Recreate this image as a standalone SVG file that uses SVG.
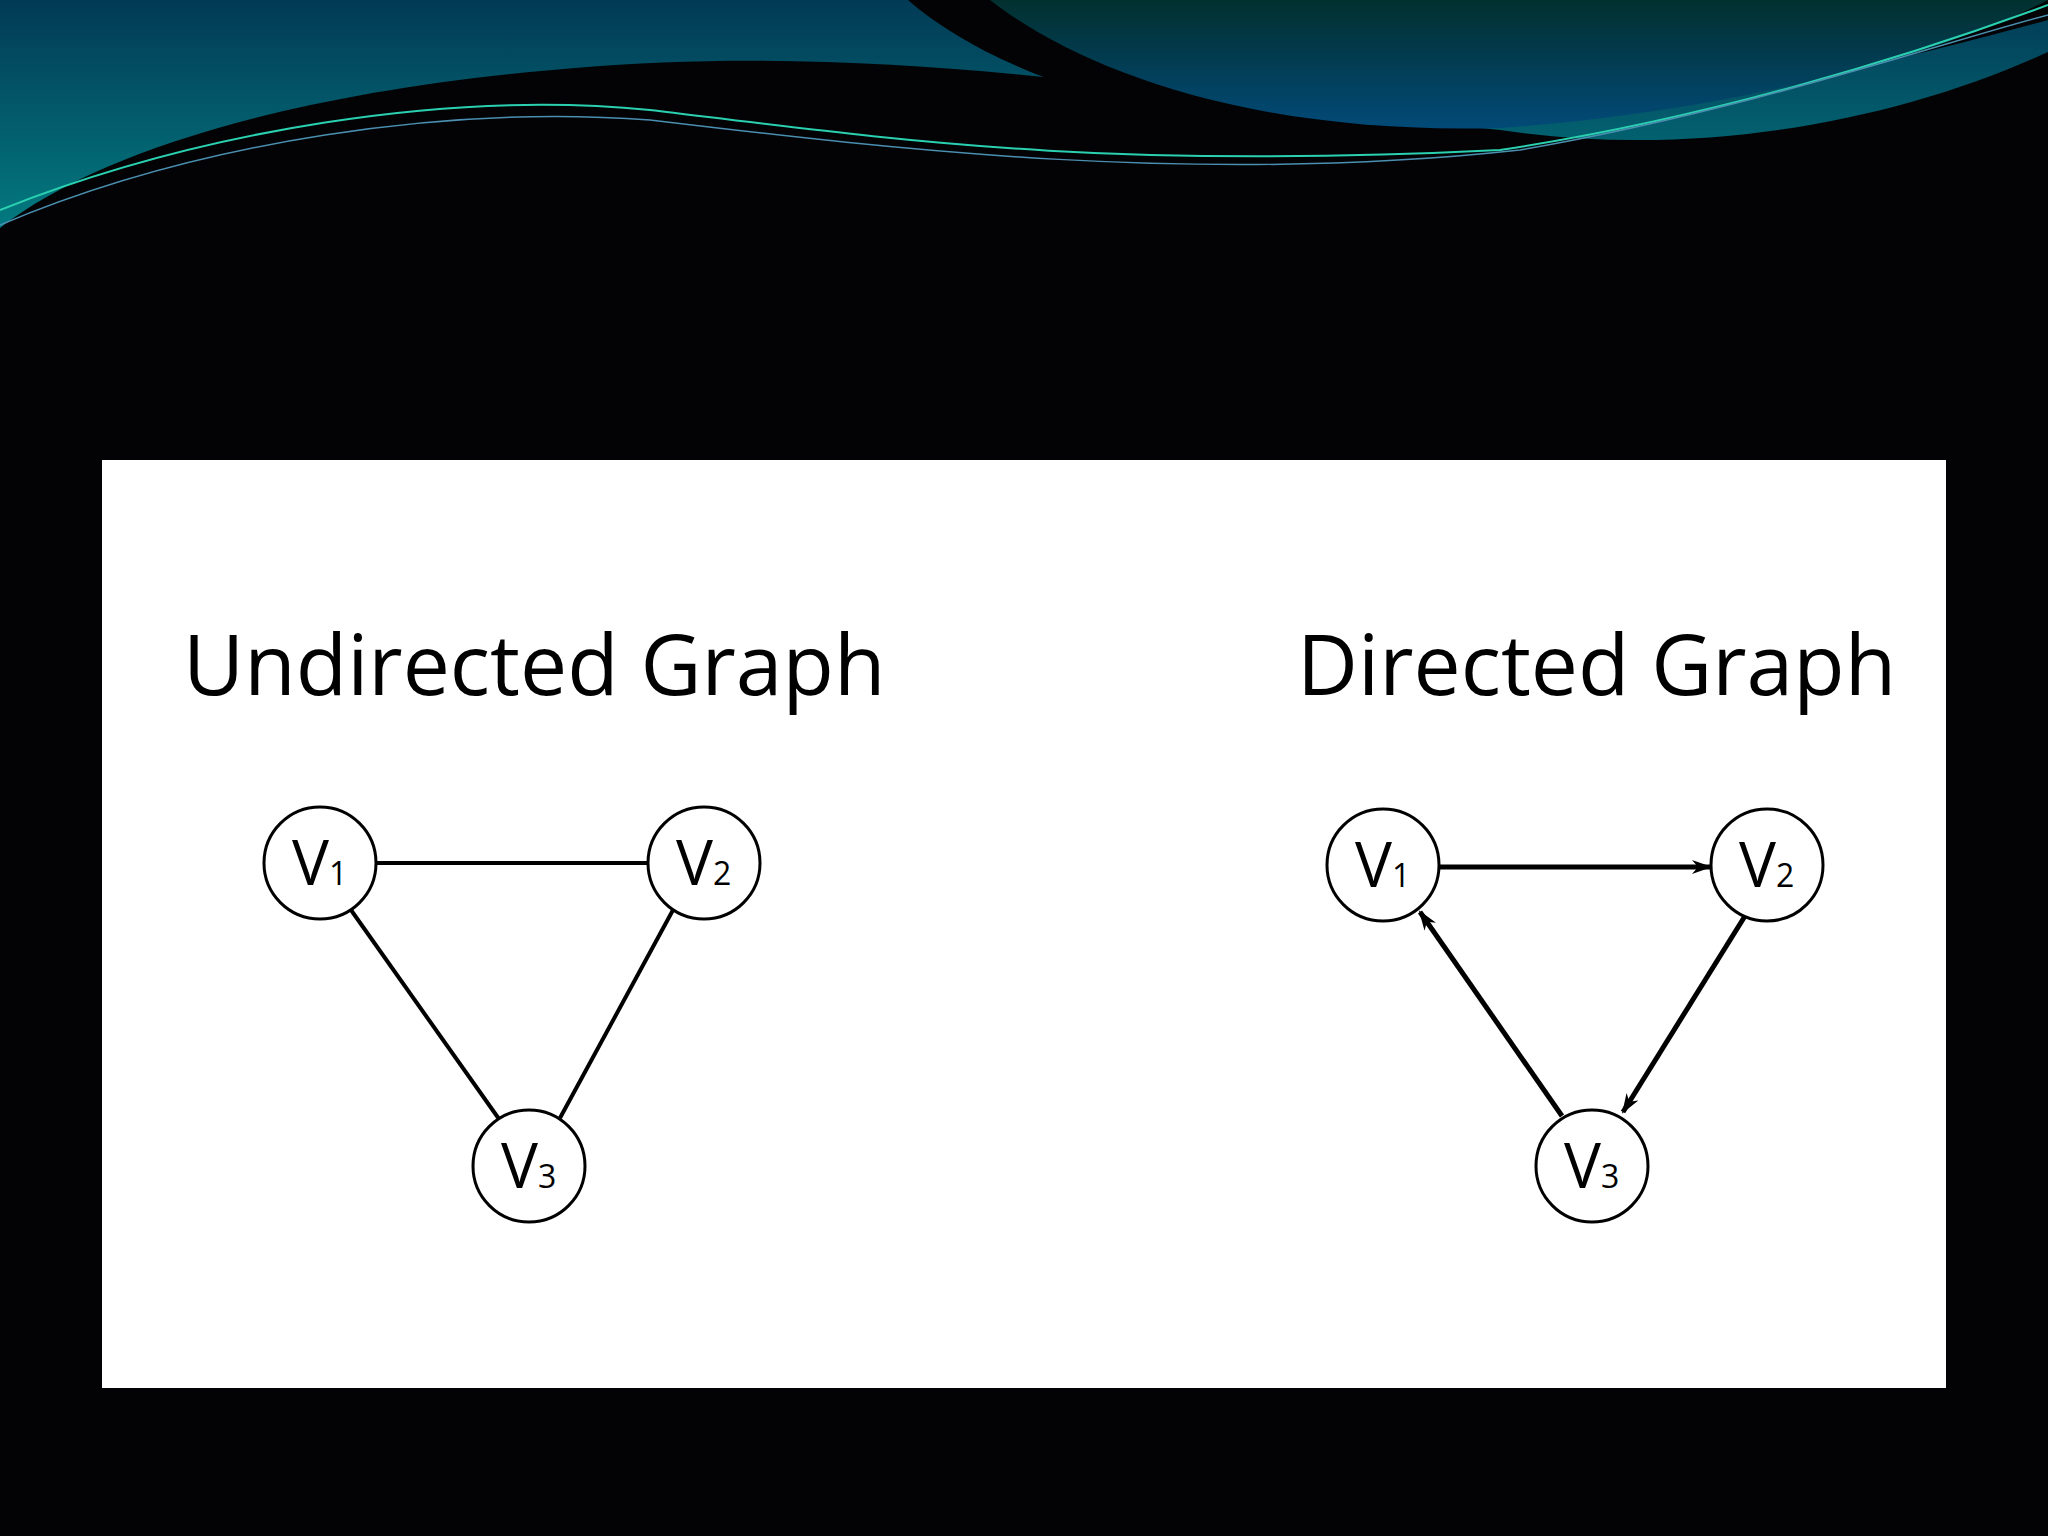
<svg xmlns="http://www.w3.org/2000/svg" width="2048" height="1536" viewBox="0 0 2048 1536">
<defs>
<linearGradient id="tg" x1="0" y1="0" x2="0" y2="1"><stop offset="0" stop-color="#023a55"/><stop offset="1" stop-color="#037a80"/></linearGradient>
<linearGradient id="dg" x1="0" y1="0" x2="0" y2="1"><stop offset="0" stop-color="#02302f"/><stop offset="1" stop-color="#024a78"/></linearGradient>
<marker id="ah" viewBox="0 0 20 14" refX="18" refY="7" markerWidth="20" markerHeight="14" markerUnits="userSpaceOnUse" orient="auto"><path d="M0,0 L20,7 L0,14 L6,7 Z" fill="#000"/></marker>
<style>
.n{fill:#fff;stroke:#000;stroke-width:3}
.t{font-family:"Open Sans","Liberation Sans",sans-serif;fill:#000}
.e{stroke:#000;stroke-width:4;fill:none}
.d{stroke:#000;stroke-width:5;fill:none;marker-end:url(#ah)}
</style>
</defs>
<rect width="2048" height="1536" fill="#030306"/>
<path d="M0,0 H2048 V52 C1900,120 1700,160 1500,130 C1200,100 900,40 575,68 C300,90 100,150 0,228 Z" fill="url(#tg)"/>
<path d="M908,0 C1000,80 1200,150 1480,128 C1700,110 1900,60 2048,20 V0 Z" fill="#030306"/>
<path d="M990,0 C1080,70 1250,135 1500,128 C1750,110 1950,50 2048,0 Z" fill="url(#dg)"/>
<path d="M0,210 C200,130 450,90 650,110 C900,140 1100,170 1500,150 C1700,120 1900,60 2048,5" stroke="#2ad0b0" stroke-width="2" fill="none"/>
<path d="M0,225 C200,140 450,105 650,120 C900,150 1200,185 1520,150 C1750,110 1950,40 2048,15" stroke="#4a8fb0" stroke-width="1.5" fill="none"/>
<rect x="102" y="460" width="1844" height="928" fill="#fff"/>
<text class="t" x="183" y="695" font-size="84">Undirected Graph</text>
<text class="t" x="1297" y="695" font-size="84">Directed Graph</text>
<g id="edges">
<line class="e" x1="376" y1="863" x2="648" y2="863"/>
<line class="e" x1="351" y1="910" x2="499" y2="1119"/>
<line class="e" x1="673" y1="910" x2="560" y2="1118"/>
<line class="d" x1="1439" y1="867" x2="1710" y2="867"/>
<line class="d" x1="1745" y1="916" x2="1623" y2="1112"/>
<line class="d" x1="1562" y1="1116" x2="1420" y2="912"/>
</g>
<g id="u1"><circle class="n" cx="320" cy="863" r="56"/><text class="t" x="292" y="885" font-size="62">V<tspan font-size="32">1</tspan></text></g>
<g id="u2"><circle class="n" cx="704" cy="863" r="56"/><text class="t" x="676" y="885" font-size="62">V<tspan font-size="32">2</tspan></text></g>
<g id="u3"><circle class="n" cx="529" cy="1166" r="56"/><text class="t" x="501" y="1188" font-size="62">V<tspan font-size="32">3</tspan></text></g>
<g id="d1"><circle class="n" cx="1383" cy="865" r="56"/><text class="t" x="1355" y="887" font-size="62">V<tspan font-size="32">1</tspan></text></g>
<g id="d2"><circle class="n" cx="1767" cy="865" r="56"/><text class="t" x="1739" y="887" font-size="62">V<tspan font-size="32">2</tspan></text></g>
<g id="d3"><circle class="n" cx="1592" cy="1166" r="56"/><text class="t" x="1564" y="1188" font-size="62">V<tspan font-size="32">3</tspan></text></g>
</svg>
